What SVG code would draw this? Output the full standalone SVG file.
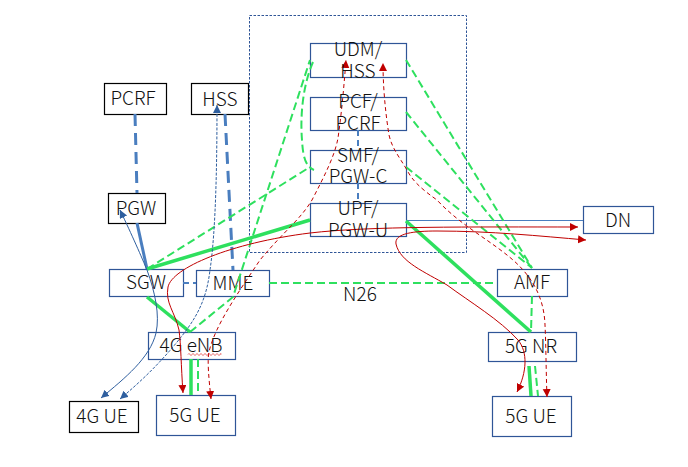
<svg xmlns="http://www.w3.org/2000/svg" width="688" height="467" viewBox="0 0 688 467">
<style>
text{font-family:"Noto Sans CJK SC","Noto Sans",sans-serif;font-size:19px;font-weight:300;fill:#111;text-anchor:middle}
.b{fill:#fff;stroke:#2f5597;stroke-width:1.2}
.k{fill:#fff;stroke:#000;stroke-width:1.2}
.c{fill:none}
.tb{stroke:#4a7ebf;stroke-width:3}
.bd{stroke-dasharray:12 7}
.sd{stroke:#4a7ebf;stroke-width:2;stroke-dasharray:6 4}
.g{stroke:#2ee05e;stroke-width:3.5}
.gd{stroke:#2ee05e;stroke-width:2;stroke-dasharray:8 4}
.r{stroke:#c00000;stroke-width:1}
.rd{stroke:#c00000;stroke-width:1;stroke-dasharray:4 3}
.tn{stroke:#2f5f9f;stroke-width:1}
</style>
<defs>
<marker id="ar" markerUnits="userSpaceOnUse" markerWidth="10" markerHeight="10" refX="8" refY="4" orient="auto-start-reverse"><path d="M0 0L8 4L0 8z" fill="#c00000"/></marker>
<marker id="ab" markerUnits="userSpaceOnUse" markerWidth="10" markerHeight="10" refX="8" refY="4" orient="auto-start-reverse"><path d="M0 0L8 4L0 8z" fill="#2f5f9f"/></marker>
</defs>
<rect id="core" x="249.500" y="15.500" width="217" height="237" fill="none" stroke="#2f5597" stroke-width="1" stroke-dasharray="2.500 1.500"/>
<g id="n-udm"><rect class="b" x="310.500" y="43.500" width="96" height="34"/></g>
<g id="n-pcf"><rect class="b" x="310.500" y="97.500" width="96" height="33"/></g>
<g id="n-smf"><rect class="b" x="310.500" y="150.500" width="96" height="33"/></g>
<g id="n-upf"><rect class="b" x="310.500" y="203.500" width="96" height="33"/></g>
<g id="n-pcrf"><rect class="k" x="104.500" y="83.500" width="62" height="31"/><text x="133" y="105">PCRF</text></g>
<g id="n-hss"><rect class="k" x="191.500" y="83.500" width="57" height="31"/><text x="220" y="106">HSS</text></g>
<g id="n-pgw"><rect class="k" x="108.500" y="193.500" width="57" height="30"/><text x="136" y="215">PGW</text></g>
<g id="n-sgw"><rect class="b" x="109.500" y="269.500" width="74" height="27"/><text x="146" y="289">SGW</text></g>
<g id="n-mme"><rect class="b" x="196.500" y="270.500" width="73" height="26"/><text x="233" y="290">MME</text></g>
<g id="n-enb"><rect class="b" x="148.500" y="332.500" width="87" height="27"/><text x="191" y="352">4G eNB</text><path d="M188 354.500q1-2 2 0t2 0t2 0t2 0t2 0t2 0t2 0t2 0t2 0t2 0t2 0t2 0t2 0t2 0t2 0t2 0t1 0" fill="none" stroke="#e03030" stroke-width=".8"/></g>
<g id="n-4gue"><rect class="k" x="69.500" y="401.500" width="69" height="31"/><text x="102" y="423">4G UE</text></g>
<g id="n-5gue1"><rect class="b" x="156.500" y="395.500" width="79" height="40"/><text x="195" y="422">5G UE</text></g>
<g id="n-amf"><rect class="b" x="497.500" y="269.500" width="70" height="27"/><text x="532" y="289">AMF</text></g>
<g id="n-nr"><rect class="b" x="488.500" y="332.500" width="88" height="29"/><text x="531" y="353">5G NR</text></g>
<g id="n-5gue2"><rect class="b" x="492.500" y="396.500" width="79" height="40"/><text x="531" y="423">5G UE</text></g>
<g id="n-dn"><rect class="b" x="583.500" y="206.500" width="70" height="27"/><text x="618" y="227">DN</text></g>
<g id="connectors">
<path class="c tb bd" d="M135 114L137 193"/>
<path class="c tb bd" d="M225 114L233 270"/>
<path class="c tb" d="M137 223L147 269"/>
<path class="c sd" d="M183 283H196"/>
<path class="c sd" d="M358 130V150"/>
<path class="c sd" d="M358 183V203"/>
<path class="c" stroke="#4a7ebf" stroke-width="1" d="M406 220.500H583"/>
<path class="c g" d="M147 269L310 220"/>
<path class="c g" d="M147 297L190 332"/>
<path class="c g" d="M406 221L531 332"/>
<path class="c g" d="M191 359V395"/>
<path class="c g" d="M529 366L531 396"/>
<path class="c gd" d="M147 269L310 167"/>
<path class="c gd" d="M190 332L233 297L310 60"/>
<path class="c gd" d="M313 62C303 85 300 115 302 140C303 158 306 167 314 170"/>
<path class="c gd" d="M406 60L532 268"/>
<path class="c gd" d="M406 112L532 268"/>
<path class="c gd" d="M406 167L532 268"/>
<path class="c gd" d="M269 283H497"/>
<path class="c gd" d="M532 296L531 332"/>
<path class="c gd" d="M198 359V395"/>
<path class="c gd" d="M535 366L538 396"/>
<path class="c tn" marker-start="url(#ab)" marker-end="url(#ab)" d="M120 210C132 235 142 258 147 270C155 292 160 315 156 333C150 358 125 378 101 398"/>
<path class="c tn" stroke-dasharray="3 1.500" marker-start="url(#ab)" marker-end="url(#ab)" d="M217 105C217 160 216 230 210 270C207 295 200 312 185 332C165 358 145 378 120 399"/>
<path class="c r" marker-start="url(#ar)" marker-end="url(#ar)" d="M183 393C181 365 181 345 179 330C175 312 165 303 168 287C172 268 230 243 310 233C370 226 470 227 578 227"/>
<path class="c r" marker-start="url(#ar)" marker-end="url(#ar)" d="M517 392C527 372 528 352 518 340C500 320 470 302 447 285C425 272 400 262 396 244C394 233 415 231 437 231C490 231 540 236 586 240"/>
<path class="c rd" marker-start="url(#ar)" marker-end="url(#ar)" d="M211 399C209 380 207 360 209 352C215 325 240 290 260 260C285 230 300 220 312 200C325 175 335 155 338 138C342 110 344 85 346 60"/>
<path class="c rd" marker-start="url(#ar)" marker-end="url(#ar)" d="M547 397C546 370 546 345 545 325C544 295 530 275 513 260C490 240 460 225 437 200C420 188 412 180 407 170C398 155 392 148 389 135C385 110 383 85 383 63"/>
</g>
<g id="labels">
<text x="358" y="56">UDM/</text><text x="358" y="78">HSS</text>
<text x="358" y="108">PCF/</text><text x="358" y="130">PCRF</text>
<text x="358" y="162">SMF/</text><text x="358" y="183">PGW-C</text>
<text x="358" y="215">UPF/</text><text x="358" y="237">PGW-U</text>
<text x="360" y="301">N26</text>
</g>
</svg>
